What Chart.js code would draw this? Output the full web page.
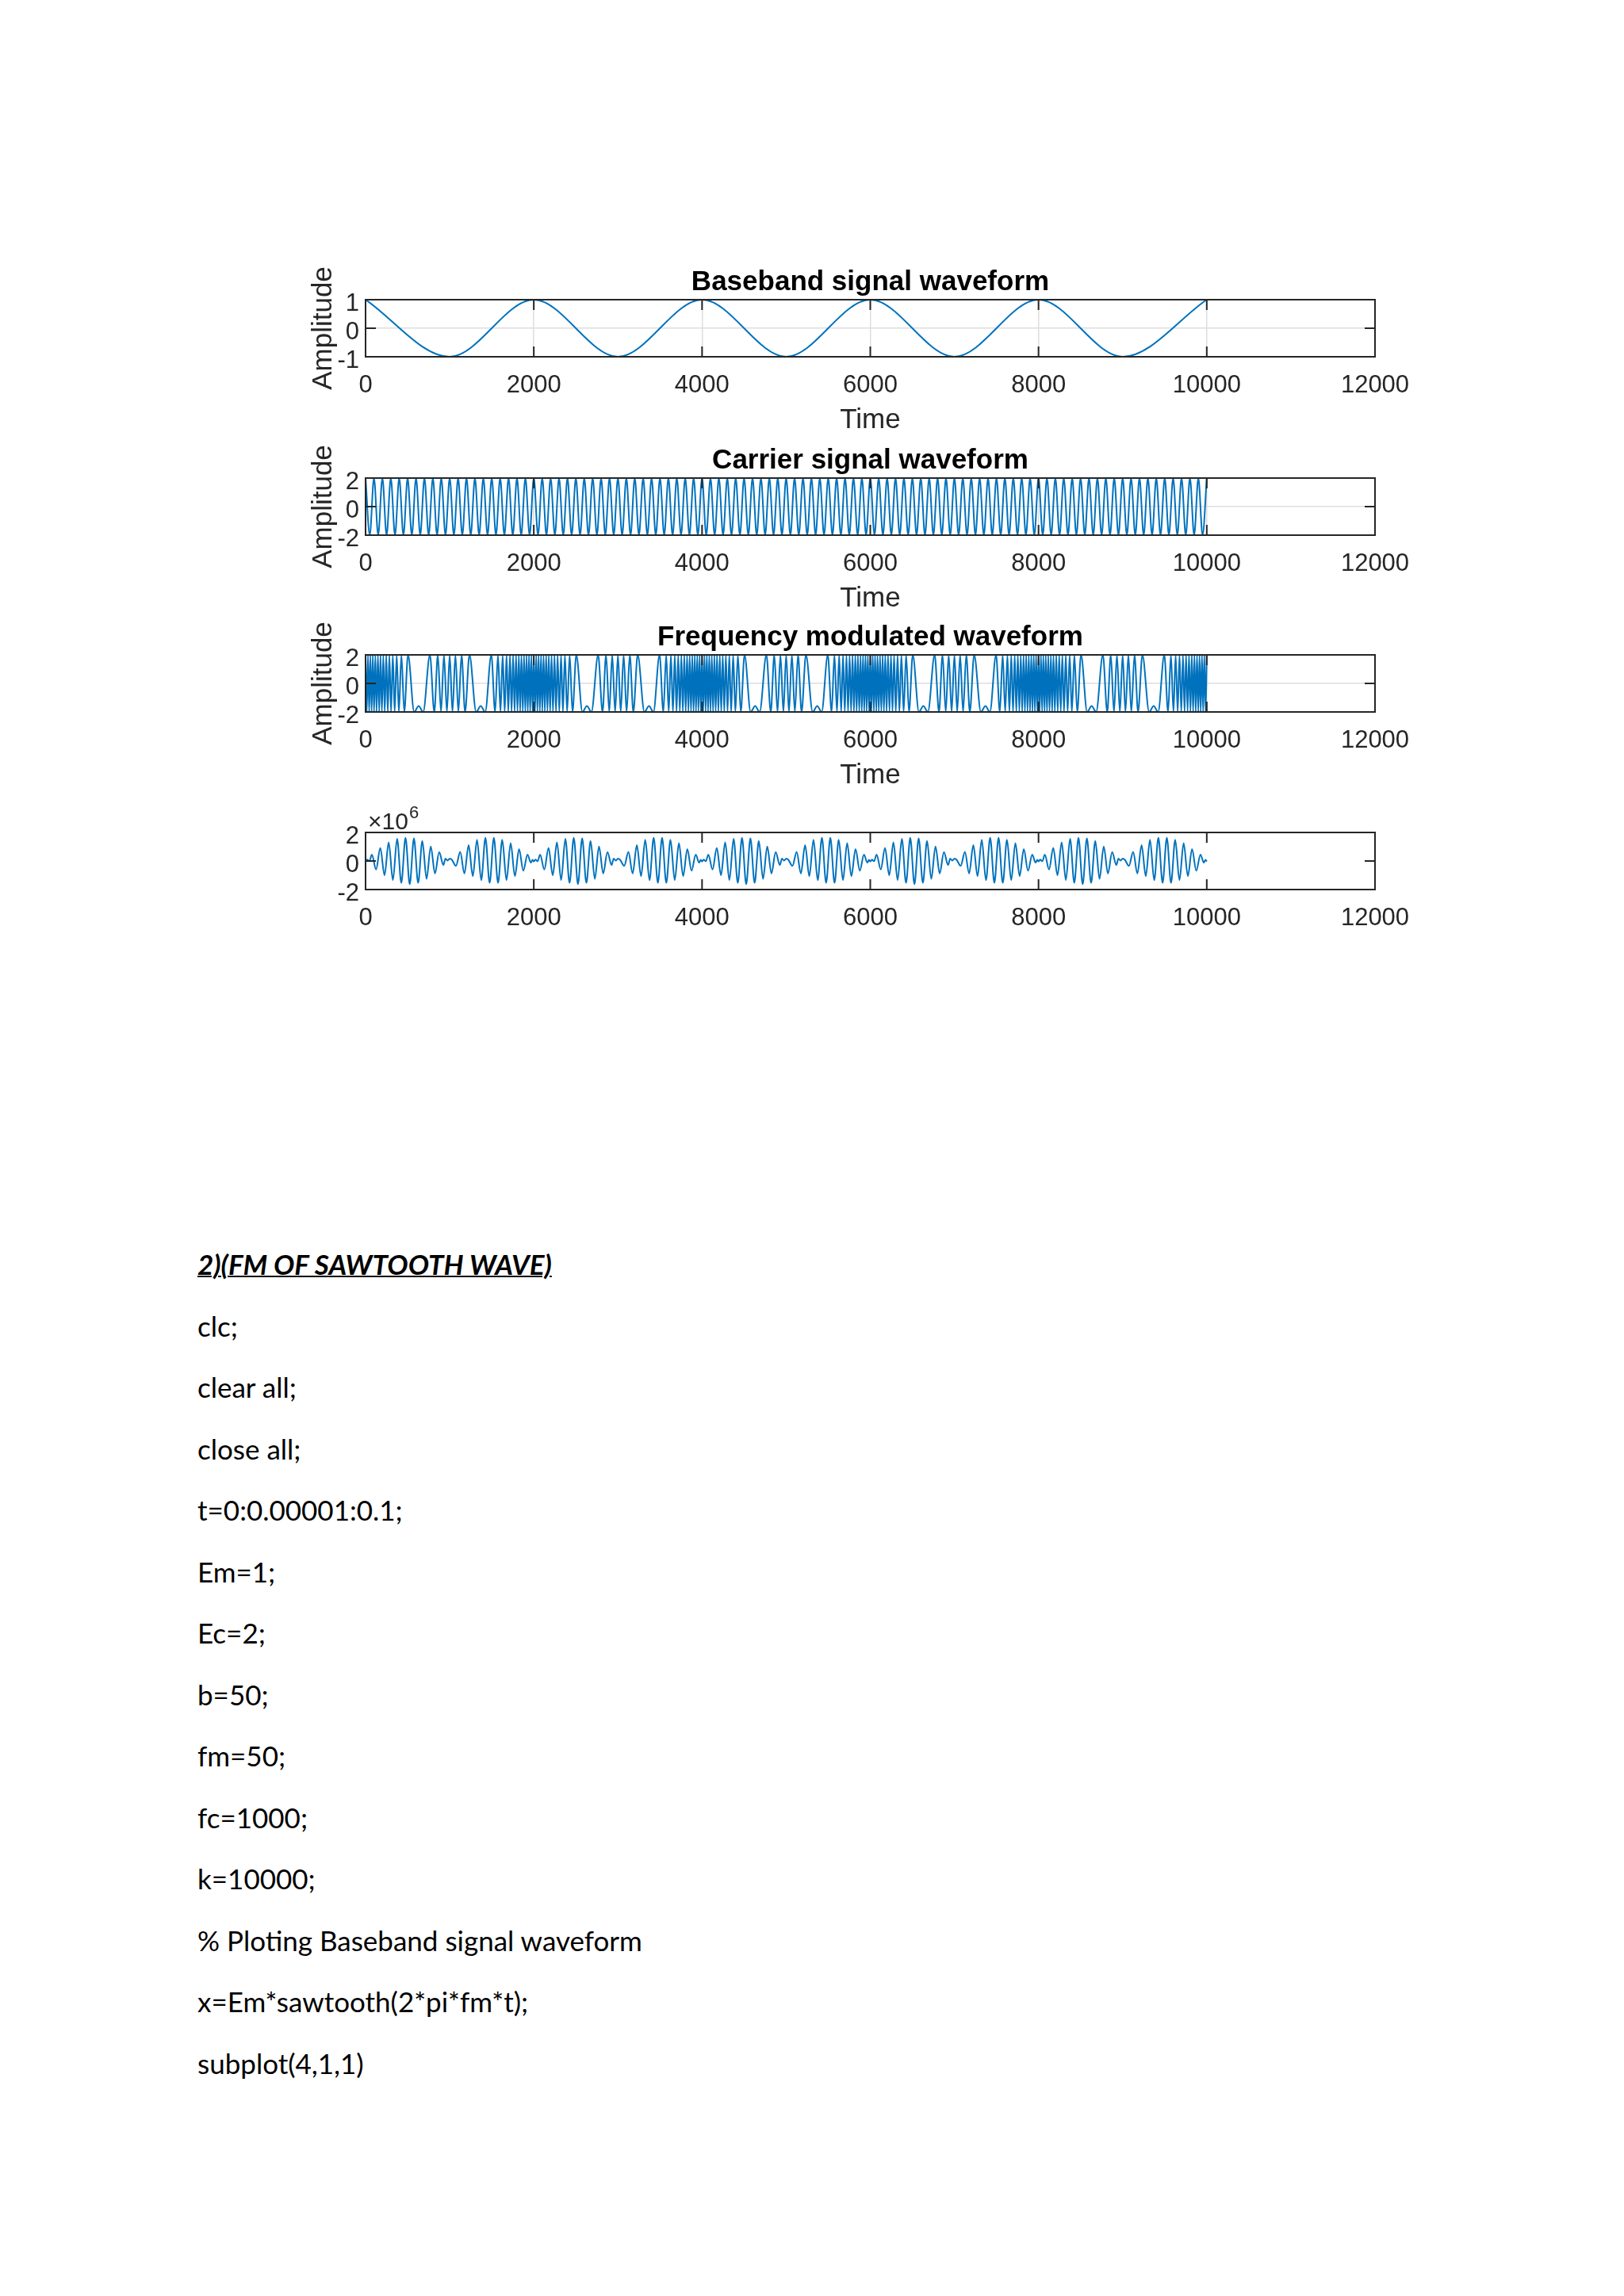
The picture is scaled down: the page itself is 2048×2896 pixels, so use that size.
<!DOCTYPE html>
<html>
<head>
<meta charset="utf-8">
<script src="https://cdn.jsdelivr.net/npm/chart.js@4.4.1/dist/chart.umd.min.js"></script>
<style>
html, body { margin: 0; padding: 0; background: #fff; }
body { width: 2048px; height: 2896px; position: relative; overflow: hidden; }
canvas { position: absolute; }
#notes { position: absolute; left: 249px; top: 1556px; font-family: Lato, 'Noto Sans', sans-serif; font-size: 35px; line-height: 77.5px; color: #000; }
#notes .head { font-weight: bold; font-style: italic; text-decoration: underline; text-decoration-thickness: 2px; }
</style>
</head>
<body>
<canvas id="baseband" width="1415" height="236" style="left:385px; top:318px;"></canvas>
<canvas id="carrier" width="1415" height="236" style="left:385px; top:543px;"></canvas>
<canvas id="fm" width="1415" height="236" style="left:385px; top:766px;"></canvas>
<canvas id="demod" width="1415" height="198" style="left:385px; top:990px;"></canvas>

<div id="notes">
  <div class="head">2)(FM OF SAWTOOTH WAVE)</div>
  <div>clc;</div>
  <div>clear all;</div>
  <div>close all;</div>
  <div>t=0:0.00001:0.1;</div>
  <div>Em=1;</div>
  <div>Ec=2;</div>
  <div>b=50;</div>
  <div>fm=50;</div>
  <div>fc=1000;</div>
  <div>k=10000;</div>
  <div>% Ploting Baseband signal waveform</div>
  <div>x=Em*sawtooth(2*pi*fm*t);</div>
  <div>subplot(4,1,1)</div>
</div>

<script>
// axis ticks shared by all four subplots
const timeTicks = [0, 2000, 4000, 6000, 8000, 10000, 12000];

// baseband: peaks and troughs of the cosine
const basebandTime = [0, 1000, 2000, 3000, 4000, 5000, 6000, 7000, 8000, 9000, 10000];
const basebandAmp = [1, -1, 1, -1, 1, -1, 1, -1, 1, -1, 1];

// carrier: peaks and troughs
const carrierTime = [
  0, 50, 100, 150, 200, 250, 300, 350, 400, 450, 500, 550, 600, 650, 700, 750, 800, 850, 900, 950,
  1000, 1050, 1100, 1150, 1200, 1250, 1300, 1350, 1400, 1450, 1500, 1550, 1600, 1650, 1700, 1750, 1800, 1850, 1900, 1950,
  2000, 2050, 2100, 2150, 2200, 2250, 2300, 2350, 2400, 2450, 2500, 2550, 2600, 2650, 2700, 2750, 2800, 2850, 2900, 2950,
  3000, 3050, 3100, 3150, 3200, 3250, 3300, 3350, 3400, 3450, 3500, 3550, 3600, 3650, 3700, 3750, 3800, 3850, 3900, 3950,
  4000, 4050, 4100, 4150, 4200, 4250, 4300, 4350, 4400, 4450, 4500, 4550, 4600, 4650, 4700, 4750, 4800, 4850, 4900, 4950,
  5000, 5050, 5100, 5150, 5200, 5250, 5300, 5350, 5400, 5450, 5500, 5550, 5600, 5650, 5700, 5750, 5800, 5850, 5900, 5950,
  6000, 6050, 6100, 6150, 6200, 6250, 6300, 6350, 6400, 6450, 6500, 6550, 6600, 6650, 6700, 6750, 6800, 6850, 6900, 6950,
  7000, 7050, 7100, 7150, 7200, 7250, 7300, 7350, 7400, 7450, 7500, 7550, 7600, 7650, 7700, 7750, 7800, 7850, 7900, 7950,
  8000, 8050, 8100, 8150, 8200, 8250, 8300, 8350, 8400, 8450, 8500, 8550, 8600, 8650, 8700, 8750, 8800, 8850, 8900, 8950,
  9000, 9050, 9100, 9150, 9200, 9250, 9300, 9350, 9400, 9450, 9500, 9550, 9600, 9650, 9700, 9750, 9800, 9850, 9900, 9950,
  10000
];
const carrierAmp = [
  2, -2, 2, -2, 2, -2, 2, -2, 2, -2, 2, -2, 2, -2, 2, -2, 2, -2, 2, -2,
  2, -2, 2, -2, 2, -2, 2, -2, 2, -2, 2, -2, 2, -2, 2, -2, 2, -2, 2, -2,
  2, -2, 2, -2, 2, -2, 2, -2, 2, -2, 2, -2, 2, -2, 2, -2, 2, -2, 2, -2,
  2, -2, 2, -2, 2, -2, 2, -2, 2, -2, 2, -2, 2, -2, 2, -2, 2, -2, 2, -2,
  2, -2, 2, -2, 2, -2, 2, -2, 2, -2, 2, -2, 2, -2, 2, -2, 2, -2, 2, -2,
  2, -2, 2, -2, 2, -2, 2, -2, 2, -2, 2, -2, 2, -2, 2, -2, 2, -2, 2, -2,
  2, -2, 2, -2, 2, -2, 2, -2, 2, -2, 2, -2, 2, -2, 2, -2, 2, -2, 2, -2,
  2, -2, 2, -2, 2, -2, 2, -2, 2, -2, 2, -2, 2, -2, 2, -2, 2, -2, 2, -2,
  2, -2, 2, -2, 2, -2, 2, -2, 2, -2, 2, -2, 2, -2, 2, -2, 2, -2, 2, -2,
  2, -2, 2, -2, 2, -2, 2, -2, 2, -2, 2, -2, 2, -2, 2, -2, 2, -2, 2, -2,
  2
];

// frequency modulated wave: turning points (dense near 0, 2000, ... and small bumps near the bottom)
const fmTime = [
  0, 14, 29, 43, 57, 72, 86, 101, 116, 131, 147, 162, 178, 194, 211, 228, 246, 264, 283, 303, 324, 346, 370, 396, 426, 460, 505, 578,
  631, 685, 765, 817, 859, 897, 932, 967, 1000, 1033, 1068, 1103, 1141, 1183, 1235, 1315, 1369,
  1422, 1495, 1540, 1574, 1604, 1630, 1654, 1676, 1697, 1717, 1736, 1754, 1772, 1789, 1806, 1822, 1838, 1853, 1869, 1884, 1899, 1914, 1928, 1943, 1957, 1971, 1986,
  2000, 2014, 2029, 2043, 2057, 2072, 2086, 2101, 2116, 2131, 2147, 2162, 2178, 2194, 2211, 2228, 2246, 2264, 2283, 2303, 2324, 2346, 2370, 2396, 2426, 2460, 2505, 2578,
  2631, 2685, 2765, 2817, 2859, 2897, 2932, 2967, 3000, 3033, 3068, 3103, 3141, 3183, 3235, 3315, 3369,
  3422, 3495, 3540, 3574, 3604, 3630, 3654, 3676, 3697, 3717, 3736, 3754, 3772, 3789, 3806, 3822, 3838, 3853, 3869, 3884, 3899, 3914, 3928, 3943, 3957, 3971, 3986,
  4000, 4014, 4029, 4043, 4057, 4072, 4086, 4101, 4116, 4131, 4147, 4162, 4178, 4194, 4211, 4228, 4246, 4264, 4283, 4303, 4324, 4346, 4370, 4396, 4426, 4460, 4505, 4578,
  4631, 4685, 4765, 4817, 4859, 4897, 4932, 4967, 5000, 5033, 5068, 5103, 5141, 5183, 5235, 5315, 5369,
  5422, 5495, 5540, 5574, 5604, 5630, 5654, 5676, 5697, 5717, 5736, 5754, 5772, 5789, 5806, 5822, 5838, 5853, 5869, 5884, 5899, 5914, 5928, 5943, 5957, 5971, 5986,
  6000, 6014, 6029, 6043, 6057, 6072, 6086, 6101, 6116, 6131, 6147, 6162, 6178, 6194, 6211, 6228, 6246, 6264, 6283, 6303, 6324, 6346, 6370, 6396, 6426, 6460, 6505, 6578,
  6631, 6685, 6765, 6817, 6859, 6897, 6932, 6967, 7000, 7033, 7068, 7103, 7141, 7183, 7235, 7315, 7369,
  7422, 7495, 7540, 7574, 7604, 7630, 7654, 7676, 7697, 7717, 7736, 7754, 7772, 7789, 7806, 7822, 7838, 7853, 7869, 7884, 7899, 7914, 7928, 7943, 7957, 7971, 7986,
  8000, 8014, 8029, 8043, 8057, 8072, 8086, 8101, 8116, 8131, 8147, 8162, 8178, 8194, 8211, 8228, 8246, 8264, 8283, 8303, 8324, 8346, 8370, 8396, 8426, 8460, 8505, 8578,
  8631, 8685, 8765, 8817, 8859, 8897, 8932, 8967, 9000, 9033, 9068, 9103, 9141, 9183, 9235, 9315, 9369,
  9422, 9495, 9540, 9574, 9604, 9630, 9654, 9676, 9697, 9717, 9736, 9754, 9772, 9789, 9806, 9822, 9838, 9853, 9869, 9884, 9899, 9914, 9928, 9943, 9957, 9971, 9986,
  10000
];
const fmAmp = [
  2, -2, 2, -2, 2, -2, 2, -2, 2, -2, 2, -2, 2, -2, 2, -2, 2, -2, 2, -2, 2, -2, 2, -2, 2, -2, 2, -2,
  -1.59, -2, 2, -2, 2, -2, 2, -2, 2, -2, 2, -2, 2, -2, 2, -2, -1.59,
  -2, 2, -2, 2, -2, 2, -2, 2, -2, 2, -2, 2, -2, 2, -2, 2, -2, 2, -2, 2, -2, 2, -2, 2, -2, 2, -2,
  2, -2, 2, -2, 2, -2, 2, -2, 2, -2, 2, -2, 2, -2, 2, -2, 2, -2, 2, -2, 2, -2, 2, -2, 2, -2, 2, -2,
  -1.59, -2, 2, -2, 2, -2, 2, -2, 2, -2, 2, -2, 2, -2, 2, -2, -1.59,
  -2, 2, -2, 2, -2, 2, -2, 2, -2, 2, -2, 2, -2, 2, -2, 2, -2, 2, -2, 2, -2, 2, -2, 2, -2, 2, -2,
  2, -2, 2, -2, 2, -2, 2, -2, 2, -2, 2, -2, 2, -2, 2, -2, 2, -2, 2, -2, 2, -2, 2, -2, 2, -2, 2, -2,
  -1.59, -2, 2, -2, 2, -2, 2, -2, 2, -2, 2, -2, 2, -2, 2, -2, -1.59,
  -2, 2, -2, 2, -2, 2, -2, 2, -2, 2, -2, 2, -2, 2, -2, 2, -2, 2, -2, 2, -2, 2, -2, 2, -2, 2, -2,
  2, -2, 2, -2, 2, -2, 2, -2, 2, -2, 2, -2, 2, -2, 2, -2, 2, -2, 2, -2, 2, -2, 2, -2, 2, -2, 2, -2,
  -1.59, -2, 2, -2, 2, -2, 2, -2, 2, -2, 2, -2, 2, -2, 2, -2, -1.59,
  -2, 2, -2, 2, -2, 2, -2, 2, -2, 2, -2, 2, -2, 2, -2, 2, -2, 2, -2, 2, -2, 2, -2, 2, -2, 2, -2,
  2, -2, 2, -2, 2, -2, 2, -2, 2, -2, 2, -2, 2, -2, 2, -2, 2, -2, 2, -2, 2, -2, 2, -2, 2, -2, 2, -2,
  -1.59, -2, 2, -2, 2, -2, 2, -2, 2, -2, 2, -2, 2, -2, 2, -2, -1.59,
  -2, 2, -2, 2, -2, 2, -2, 2, -2, 2, -2, 2, -2, 2, -2, 2, -2, 2, -2, 2, -2, 2, -2, 2, -2, 2, -2,
  2
];

// fourth subplot, values in units of 10^6
const demodTime = [
  0, 20, 45, 75, 125, 175, 225, 275, 325, 375, 425, 475, 525, 575, 625, 675, 725, 775, 825, 875, 925, 950, 975, 1000, 1025,
  1075, 1125, 1175, 1225, 1275, 1325, 1375, 1425, 1475, 1525, 1575, 1625, 1675, 1725, 1775, 1825, 1875, 1925, 1965, 1985,
  2000, 2020, 2045, 2075, 2125, 2175, 2225, 2275, 2325, 2375, 2425, 2475, 2525, 2575, 2625, 2675, 2725, 2775, 2825, 2875, 2925, 2950, 2975, 3000, 3025,
  3075, 3125, 3175, 3225, 3275, 3325, 3375, 3425, 3475, 3525, 3575, 3625, 3675, 3725, 3775, 3825, 3875, 3925, 3965, 3985,
  4000, 4020, 4045, 4075, 4125, 4175, 4225, 4275, 4325, 4375, 4425, 4475, 4525, 4575, 4625, 4675, 4725, 4775, 4825, 4875, 4925, 4950, 4975, 5000, 5025,
  5075, 5125, 5175, 5225, 5275, 5325, 5375, 5425, 5475, 5525, 5575, 5625, 5675, 5725, 5775, 5825, 5875, 5925, 5965, 5985,
  6000, 6020, 6045, 6075, 6125, 6175, 6225, 6275, 6325, 6375, 6425, 6475, 6525, 6575, 6625, 6675, 6725, 6775, 6825, 6875, 6925, 6950, 6975, 7000, 7025,
  7075, 7125, 7175, 7225, 7275, 7325, 7375, 7425, 7475, 7525, 7575, 7625, 7675, 7725, 7775, 7825, 7875, 7925, 7965, 7985,
  8000, 8020, 8045, 8075, 8125, 8175, 8225, 8275, 8325, 8375, 8425, 8475, 8525, 8575, 8625, 8675, 8725, 8775, 8825, 8875, 8925, 8950, 8975, 9000, 9025,
  9075, 9125, 9175, 9225, 9275, 9325, 9375, 9425, 9475, 9525, 9575, 9625, 9675, 9725, 9775, 9825, 9875, 9925, 9965, 9985,
  10000
];
const demodAmp = [
  -0.03, 0.1, -0.02, 0.45, -0.6, 0.92, -1.0, 1.3, -1.34, 1.56, -1.53, 1.62, -1.62, 1.58, -1.53, 1.4, -1.25, 1.02, -0.87, 0.62, -0.28, 0.17, 0.03, 0.17, 0.1,
  -0.34, 0.64, -0.87, 1.11, -1.06, 1.49, -1.34, 1.62, -1.53, 1.62, -1.53, 1.49, -1.34, 1.25, -1.06, 0.83, -0.68, 0.45, -0.11, 0.08,
  -0.03, 0.1, -0.02, 0.45, -0.6, 0.92, -1.0, 1.3, -1.34, 1.56, -1.53, 1.62, -1.62, 1.58, -1.53, 1.4, -1.25, 1.02, -0.87, 0.62, -0.28, 0.17, 0.03, 0.17, 0.1,
  -0.34, 0.64, -0.87, 1.11, -1.06, 1.49, -1.34, 1.62, -1.53, 1.62, -1.53, 1.49, -1.34, 1.25, -1.06, 0.83, -0.68, 0.45, -0.11, 0.08,
  -0.03, 0.1, -0.02, 0.45, -0.6, 0.92, -1.0, 1.3, -1.34, 1.56, -1.53, 1.62, -1.62, 1.58, -1.53, 1.4, -1.25, 1.02, -0.87, 0.62, -0.28, 0.17, 0.03, 0.17, 0.1,
  -0.34, 0.64, -0.87, 1.11, -1.06, 1.49, -1.34, 1.62, -1.53, 1.62, -1.53, 1.49, -1.34, 1.25, -1.06, 0.83, -0.68, 0.45, -0.11, 0.08,
  -0.03, 0.1, -0.02, 0.45, -0.6, 0.92, -1.0, 1.3, -1.34, 1.56, -1.53, 1.62, -1.62, 1.58, -1.53, 1.4, -1.25, 1.02, -0.87, 0.62, -0.28, 0.17, 0.03, 0.17, 0.1,
  -0.34, 0.64, -0.87, 1.11, -1.06, 1.49, -1.34, 1.62, -1.53, 1.62, -1.53, 1.49, -1.34, 1.25, -1.06, 0.83, -0.68, 0.45, -0.11, 0.08,
  -0.03, 0.1, -0.02, 0.45, -0.6, 0.92, -1.0, 1.3, -1.34, 1.56, -1.53, 1.62, -1.62, 1.58, -1.53, 1.4, -1.25, 1.02, -0.87, 0.62, -0.28, 0.17, 0.03, 0.17, 0.1,
  -0.34, 0.64, -0.87, 1.11, -1.06, 1.49, -1.34, 1.62, -1.53, 1.62, -1.53, 1.49, -1.34, 1.25, -1.06, 0.83, -0.68, 0.45, -0.11, 0.08,
  -0.03
];

const FONT = "'Liberation Sans', Arial, Helvetica, sans-serif";
const INK = '#262626';
const LINE = '#0072BD';
const GRID = '#dedede';

// MATLAB-like box: frame, inward ticks, bold title, exponent label
const matlabAxes = {
  id: 'matlabAxes',
  afterDatasetsDraw(chart, args, opts) {
    const { ctx, chartArea: a } = chart;
    const xs = chart.scales.x, ys = chart.scales.y;
    ctx.save();
    ctx.strokeStyle = INK;
    ctx.lineWidth = 2;
    ctx.beginPath();
    xs.ticks.forEach(t => {
      const px = xs.getPixelForValue(t.value);
      ctx.moveTo(px, a.bottom); ctx.lineTo(px, a.bottom - 13);
      ctx.moveTo(px, a.top); ctx.lineTo(px, a.top + 13);
    });
    ys.ticks.forEach(t => {
      const py = ys.getPixelForValue(t.value);
      ctx.moveTo(a.left, py); ctx.lineTo(a.left + 13, py);
      ctx.moveTo(a.right, py); ctx.lineTo(a.right - 13, py);
    });
    ctx.stroke();
    ctx.strokeRect(a.left, a.top, a.right - a.left, a.bottom - a.top);

    if (opts.title) {
      ctx.fillStyle = '#000';
      ctx.font = `bold 35px ${FONT}`;
      ctx.textAlign = 'center';
      ctx.textBaseline = 'alphabetic';
      ctx.fillText(opts.title, (a.left + a.right) / 2, a.top - 12);
    }
    if (opts.exponent) {
      ctx.fillStyle = INK;
      ctx.textAlign = 'left';
      ctx.textBaseline = 'alphabetic';
      ctx.font = `30px ${FONT}`;
      ctx.fillText('\u00d710', a.left + 3, a.top - 4);
      const w = ctx.measureText('\u00d710').width;
      ctx.font = `22px ${FONT}`;
      ctx.fillText(opts.exponent, a.left + 4 + w, a.top - 18);
    }
    ctx.restore();
  }
};

function points(xs, ys) {
  return xs.map((x, i) => ({ x, y: ys[i] }));
}

function subplot(id, cfg) {
  const ctx = document.getElementById(id).getContext('2d');
  return new Chart(ctx, {
    type: 'line',
    data: {
      datasets: [{
        data: points(cfg.time, cfg.amp),
        borderColor: LINE,
        borderWidth: 2,
        pointRadius: 0,
        fill: false,
        cubicInterpolationMode: 'monotone'
      }]
    },
    options: {
      responsive: false,
      animation: false,
      events: [],
      layout: { padding: { top: 60, right: 66, bottom: 3, left: 0 } },
      plugins: {
        legend: { display: false },
        tooltip: { enabled: false },
        matlabAxes: { title: cfg.title, exponent: cfg.exponent }
      },
      scales: {
        x: {
          type: 'linear',
          min: 0,
          max: 12000,
          afterBuildTicks: s => { s.ticks = timeTicks.map(v => ({ value: v })); },
          ticks: {
            autoSkip: false,
            maxRotation: 0,
            padding: 18,
            color: INK,
            font: { family: FONT, size: 31 },
            callback: v => String(v)
          },
          grid: { display: cfg.grid, color: GRID, lineWidth: 1.5, drawTicks: false },
          border: { display: false },
          title: {
            display: !!cfg.xLabel,
            text: cfg.xLabel,
            color: INK,
            font: { family: FONT, size: 35 },
            padding: 0
          },
          afterFit: s => { s.height = cfg.xLabel ? 101 : 63; }
        },
        y: {
          min: cfg.yTicks[0],
          max: cfg.yTicks[cfg.yTicks.length - 1],
          afterBuildTicks: s => { s.ticks = cfg.yTicks.map(v => ({ value: v })); },
          ticks: {
            autoSkip: false,
            padding: 8,
            labelOffset: 5,
            color: INK,
            font: { family: FONT, size: 31 },
            callback: v => String(v)
          },
          grid: { display: cfg.grid, color: GRID, lineWidth: 1.5, drawTicks: false },
          border: { display: false },
          title: {
            display: !!cfg.yLabel,
            text: cfg.yLabel,
            color: INK,
            font: { family: FONT, size: 35 },
            padding: { top: 2, bottom: 0 }
          },
          afterFit: s => { s.width = 76; }
        }
      }
    },
    plugins: [matlabAxes]
  });
}

subplot('baseband', {
  time: basebandTime, amp: basebandAmp, yTicks: [-1, 0, 1],
  title: 'Baseband signal waveform', xLabel: 'Time', yLabel: 'Amplitude', grid: true
});
subplot('carrier', {
  time: carrierTime, amp: carrierAmp, yTicks: [-2, 0, 2],
  title: 'Carrier signal waveform', xLabel: 'Time', yLabel: 'Amplitude', grid: true
});
subplot('fm', {
  time: fmTime, amp: fmAmp, yTicks: [-2, 0, 2],
  title: 'Frequency modulated waveform', xLabel: 'Time', yLabel: 'Amplitude', grid: true
});
subplot('demod', {
  time: demodTime, amp: demodAmp, yTicks: [-2, 0, 2],
  exponent: '6', grid: false
});
</script>
</body>
</html>
